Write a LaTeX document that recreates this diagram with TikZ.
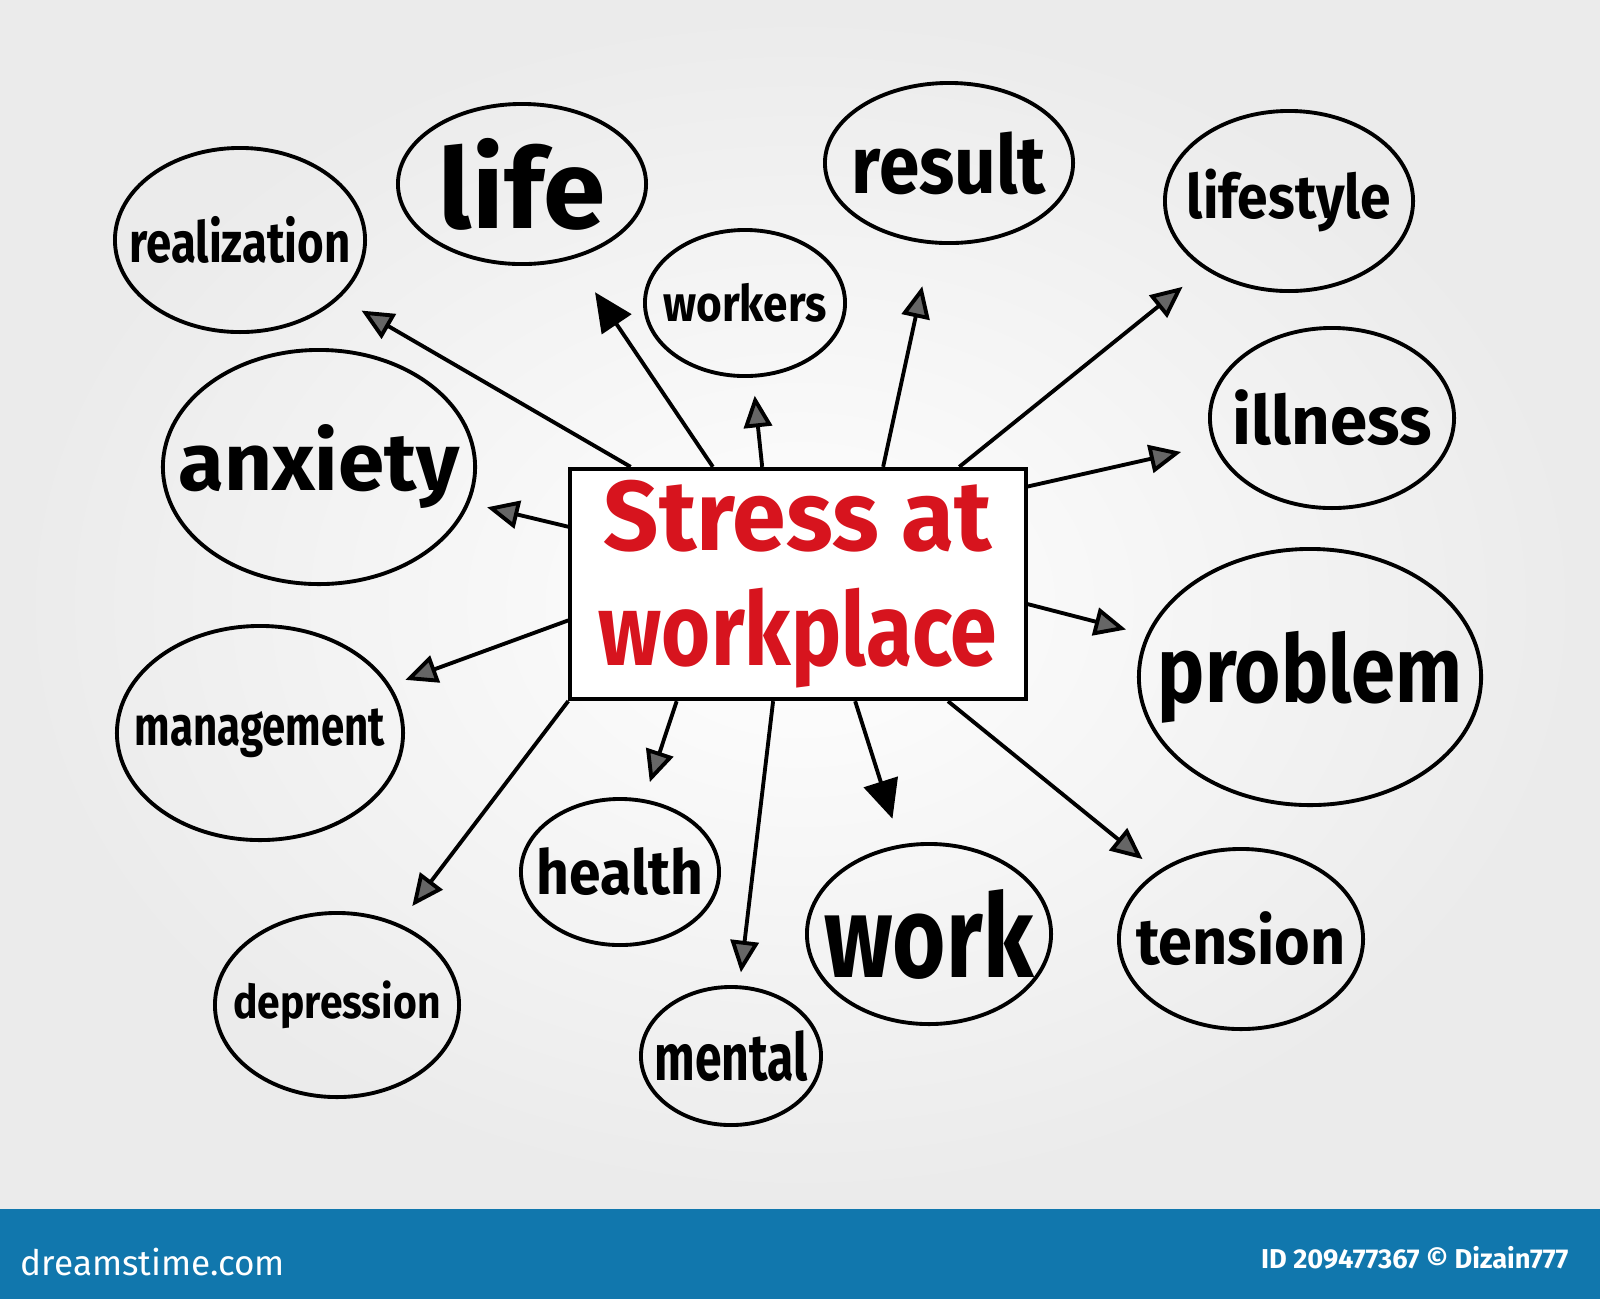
\documentclass[tikz,border=0pt]{standalone}
\usepackage{fontspec}
\setmainfont{Fira Sans}
\usepackage{graphicx}
\usetikzlibrary{arrows.meta,shapes.geometric}
\definecolor{stressred}{HTML}{D7141E}
\definecolor{bannerblue}{HTML}{1177AD}
\newcommand{\word}[3]{\resizebox*{#1}{#2}{\bfseries #3}}

\begin{document}
\begin{tikzpicture}
  [
    x=0.01cm, y=-0.01cm,
    bubble/.style={ellipse, draw=black, line width=1.1pt, inner sep=0pt},
    centre/.style={rectangle, draw=black, line width=1.2pt, fill=white, inner sep=0pt, minimum width=4.55cm, minimum height=2.30cm},
    arr/.style={line width=1.1pt, -{Triangle[length=9pt, width=8pt, fill=black!60]}},
    bigarr/.style={line width=1.1pt, -{Triangle[length=11pt, width=10pt]}}
  ]
  % background and banner
  \useasboundingbox (0,0) rectangle (1600,1299);
  \shade[inner color=white, outer color=black!8] (0,0) rectangle (1600,1209);
  \fill[bannerblue] (0,1209) rectangle (1600,1299);
  \node[text=white, anchor=west, inner sep=0pt] (site) at (20,1262) {\resizebox{2.64cm}{!}{dreamstime.com}};
  \node[text=white, anchor=east, inner sep=0pt] (credit) at (1569,1258) {\resizebox{3.07cm}{!}{\bfseries ID 209477367 © Dizain777}};
  % centre
  \node[centre, label={[text=stressred, align=center]center:\word{3.88cm}{0.72cm}{Stress at}\\[9pt]\word{3.98cm}{1.00cm}{workplace}}] (c) at (798,584) {};
  % bubbles
  \node[bubble, minimum width=2.50cm, minimum height=1.84cm, label=center:\word{2.21cm}{0.47cm}{realization}] (realization) at (240,240) {};
  \node[bubble, minimum width=2.48cm, minimum height=1.60cm, label=center:\word{1.66cm}{0.92cm}{life}] (life) at (522,184) {};
  \node[bubble, minimum width=2.00cm, minimum height=1.46cm, label=center:\word{1.63cm}{0.39cm}{workers}] (workers) at (745,303) {};
  \node[bubble, minimum width=2.48cm, minimum height=1.60cm, label=center:\word{1.94cm}{0.63cm}{result}] (result) at (949,163) {};
  \node[bubble, minimum width=2.48cm, minimum height=1.80cm, label=center:\word{2.04cm}{0.63cm}{lifestyle}] (lifestyle) at (1289,201) {};
  \node[bubble, minimum width=3.12cm, minimum height=2.34cm, label=center:\word{2.81cm}{0.84cm}{anxiety}] (anxiety) at (319,467) {};
  \node[bubble, minimum width=2.44cm, minimum height=1.80cm, label=center:\word{1.99cm}{0.56cm}{illness}] (illness) at (1332,418) {};
  \node[bubble, minimum width=2.86cm, minimum height=2.14cm, label=center:\word{2.50cm}{0.49cm}{management}] (management) at (260,733) {};
  \node[bubble, minimum width=3.42cm, minimum height=2.56cm, label=center:\word{3.04cm}{0.92cm}{problem}] (problem) at (1310,677) {};
  \node[bubble, minimum width=1.98cm, minimum height=1.46cm, label=center:\word{1.66cm}{0.48cm}{health}] (health) at (620,872) {};
  \node[bubble, minimum width=2.44cm, minimum height=1.80cm, label=center:\word{2.09cm}{0.90cm}{work}] (work) at (929,934) {};
  \node[bubble, minimum width=2.44cm, minimum height=1.80cm, label=center:\word{2.09cm}{0.54cm}{tension}] (tension) at (1241,939) {};
  \node[bubble, minimum width=2.44cm, minimum height=1.84cm, label=center:\word{2.07cm}{0.48cm}{depression}] (depression) at (337,1005) {};
  \node[bubble, minimum width=1.80cm, minimum height=1.38cm, label=center:\word{1.53cm}{0.51cm}{mental}] (mental) at (731,1056) {};
  % arrows
  \draw[arr, shorten >=0.25cm] (c.145) -- (realization);
  \draw[bigarr, shorten >=0.40cm] (c.126) -- (life);
  \draw[arr, shorten >=0.18cm] (c.107) -- (workers);
  \draw[arr, shorten >=0.43cm] (c.54) -- (result);
  \draw[arr, shorten >=0.28cm] (c.36) -- (lifestyle);
  \draw[arr, shorten >=0.33cm] (c.23) -- (illness);
  \draw[arr, shorten >=0.18cm] (c.166) -- (anxiety);
  \draw[arr, shorten >=0.16cm] (c.189) -- (management);
  \draw[arr, shorten >=0.21cm] (c.355) -- (problem);
  \draw[arr, shorten >=0.18cm] (c.224) -- (health);
  \draw[arr, shorten >=0.22cm] (c.207) -- (depression);
  \draw[arr, shorten >=0.13cm] (c.258) -- (mental);
  \draw[bigarr, shorten >=0.27cm] (c.296) -- (work);
  \draw[arr, shorten >=0.19cm] (c.322) -- (tension);
\end{tikzpicture}
\end{document}
